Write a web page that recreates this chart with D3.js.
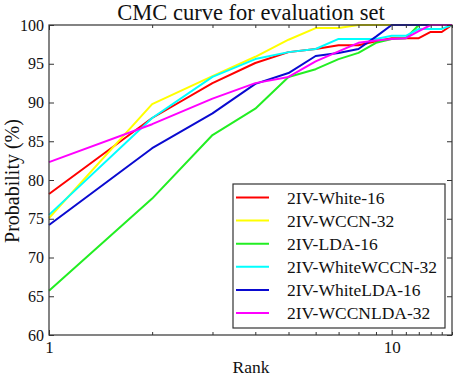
<!DOCTYPE html>
<html>
<head>
<meta charset="utf-8">
<script src="https://cdn.jsdelivr.net/npm/d3@7"></script>
<style>
  html, body { margin: 0; padding: 0; background: #fff; }
  svg { display: block; }
  text { font-family: "Liberation Serif", "DejaVu Serif", serif; fill: #111; }
</style>
</head>
<body>
<svg id="chart" width="474" height="376"></svg>
<script>
const ranks = [1,2,3,4,5,6,7,8,9,10,11,12,13,14,15];
const seriesNames = ["2IV-White-16","2IV-WCCN-32","2IV-LDA-16","2IV-WhiteWCCN-32","2IV-WhiteLDA-16","2IV-WCCNLDA-32"];
const seriesColors = ["#ff0000","#ffff00","#22ee22","#00ffff","#0a0ad0","#ff00ff"];
const white16     = [78.2, 88.0, 92.5, 95.1, 96.5, 96.9, 97.4, 97.4, 97.9, 98.3, 98.3, 98.3, 99.1, 99.1, 100];
const wccn32      = [75.1, 89.8, 93.4, 95.9, 98.1, 99.6, 99.6, 100, 100, 100, 100, 100, 100, 100, 100];
const lda16       = [65.7, 77.6, 85.8, 89.2, 93.3, 94.3, 95.6, 96.4, 97.7, 98.2, 98.3, 100, 100, 100, 100];
const whiteWccn32 = [75.5, 88.0, 93.3, 95.6, 96.5, 96.9, 98.2, 98.2, 98.2, 98.6, 98.6, 99.5, 99.5, 99.5, 100];
const whiteLda16  = [74.2, 84.1, 88.6, 92.4, 93.8, 96.0, 96.4, 96.9, 98.5, 100, 100, 100, 100, 100, 100];
const wccnLda32   = [82.3, 87.2, 90.5, 92.5, 93.3, 95.3, 96.6, 97.7, 98.0, 98.2, 98.3, 99.2, 100, 100, 100];
const seriesValues = [white16, wccn32, lda16, whiteWccn32, whiteLda16, wccnLda32];
const yTicks = [60,65,70,75,80,85,90,95,100];
const xMajorTicks = [1,10];
const xMinorTicks = [2,3,4,5,6,7,8,9,11,12,13,14,15];
const titleText = "CMC curve for evaluation set";
const xLabel = "Rank";
const yLabel = "Probability (%)";

const svg = d3.select("#chart");
const L = 49, R = 452, T = 25, B = 335;
const x = d3.scaleLog().domain([1,15]).range([L,R]);
const y = d3.scaleLinear().domain([60,100]).range([B,T]);

// lines
const line = d3.line().x((d,i)=>x(ranks[i])).y(d=>y(d));
seriesValues.forEach((vals,k) => {
  svg.append("path").datum(vals)
    .attr("d", line).attr("fill","none")
    .attr("stroke", seriesColors[k]).attr("stroke-width", 2)
    .attr("stroke-linejoin","round");
});

// frame
svg.append("rect").attr("x",L).attr("y",T).attr("width",R-L).attr("height",B-T)
  .attr("fill","none").attr("stroke","#333").attr("stroke-width",1.2);

// y ticks (inward both sides)
const yAxisL = d3.axisLeft(y).tickValues(yTicks).tickSize(-5).tickPadding(5);
const gyl = svg.append("g").attr("transform",`translate(${L},0)`).call(yAxisL);
gyl.select(".domain").remove();
gyl.selectAll("line").attr("stroke","#333");
gyl.selectAll("text").style("font-size","16px").style("font-family","Liberation Serif, serif").attr("fill","#111");
const yAxisR = d3.axisRight(y).tickValues(yTicks).tickSize(-5).tickFormat("");
const gyr = svg.append("g").attr("transform",`translate(${R},0)`).call(yAxisR);
gyr.select(".domain").remove();
gyr.selectAll("line").attr("stroke","#333");

// x ticks
const xAxisB = d3.axisBottom(x).tickValues(xMajorTicks).tickSize(-5).tickPadding(6).tickFormat(d3.format("d"));
const gxb = svg.append("g").attr("transform",`translate(0,${B})`).call(xAxisB);
gxb.select(".domain").remove();
gxb.selectAll("line").attr("stroke","#333");
gxb.selectAll("text").style("font-size","17px").style("font-family","Liberation Serif, serif").attr("fill","#111");
const xMinB = d3.axisBottom(x).tickValues(xMinorTicks).tickSize(-3).tickFormat("");
const gmb = svg.append("g").attr("transform",`translate(0,${B})`).call(xMinB);
gmb.select(".domain").remove(); gmb.selectAll("line").attr("stroke","#333");
const xAxisT = d3.axisTop(x).tickValues(xMajorTicks).tickSize(-5).tickFormat("");
const gxt = svg.append("g").attr("transform",`translate(0,${T})`).call(xAxisT);
gxt.select(".domain").remove(); gxt.selectAll("line").attr("stroke","#333");
const xMinT = d3.axisTop(x).tickValues(xMinorTicks).tickSize(-3).tickFormat("");
const gmt = svg.append("g").attr("transform",`translate(0,${T})`).call(xMinT);
gmt.select(".domain").remove(); gmt.selectAll("line").attr("stroke","#333");

// title & labels
svg.append("text").attr("x",251).attr("y",20).attr("text-anchor","middle")
  .style("font-size","22.5px").text(titleText);
svg.append("text").attr("x",251).attr("y",373).attr("text-anchor","middle")
  .style("font-size","17.5px").text(xLabel);
svg.append("text").attr("transform","translate(19,181) rotate(-90)").attr("text-anchor","middle")
  .style("font-size","20px").text(yLabel);

// legend
const lg = svg.append("g");
lg.append("rect").attr("x",233).attr("y",184).attr("width",212).attr("height",144)
  .attr("fill","#fff").attr("stroke","#333").attr("stroke-width",1.2);
seriesNames.forEach((name,i) => {
  const yy = 197.5 + i*23.1;
  lg.append("line").attr("x1",236).attr("x2",269).attr("y1",yy).attr("y2",yy)
    .attr("stroke",seriesColors[i]).attr("stroke-width",2);
  lg.append("text").attr("x",287).attr("y",yy+6).style("font-size","17.5px").text(name);
});
</script>
</body>
</html>
